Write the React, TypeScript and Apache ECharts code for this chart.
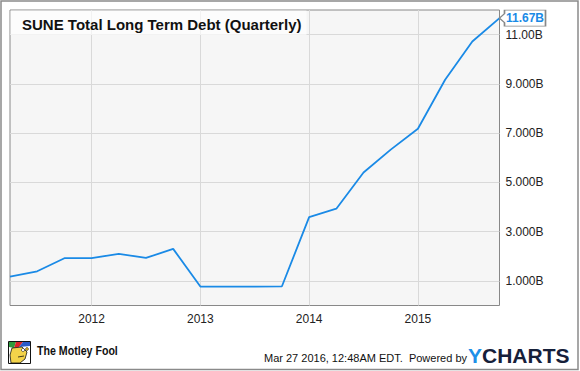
import React, { useEffect, useRef } from "react";
import * as echarts from "echarts";

// Quarter ends as decimal years (Q1 2011 ... Q3 2015)
const quarters: number[] = [
  2011.25, 2011.5, 2011.75, 2012.0, 2012.25, 2012.5, 2012.75, 2013.0, 2013.25, 2013.5,
  2013.75, 2014.0, 2014.25, 2014.5, 2014.75, 2015.0, 2015.25, 2015.5, 2015.75,
];
// Total long term debt, billions USD
const debtB: number[] = [
  1.17, 1.39, 1.92, 1.92, 2.1, 1.93, 2.3, 0.77, 0.77, 0.77,
  0.78, 3.59, 3.93, 5.4, 6.33, 7.18, 9.17, 10.72, 11.67,
];
const yTicks: number[] = [1, 3, 5, 7, 9, 11];
const xYears: number[] = [2012, 2013, 2014, 2015];

const TITLE = "SUNE Total Long Term Debt (Quarterly)";
const STAMP = "Mar 27 2016, 12:48AM EDT.  Powered by";
const BLUE = "#1a8ae6";
const FONT = "'Liberation Sans', Arial, Helvetica, sans-serif";

export default function App() {
  const ref = useRef<HTMLDivElement>(null);
  useEffect(() => {
    if (!ref.current) return;
    const chart = echarts.init(ref.current, undefined, { renderer: "svg" });
    const lastI = quarters.length - 1;
    chart.setOption({
      animation: false,
      backgroundColor: "#ffffff",
      textStyle: { fontFamily: FONT },
      title: {
        text: TITLE,
        left: 22,
        top: 17,
        padding: 0,
        textStyle: { fontSize: 15, fontWeight: "bold", color: "#111", fontFamily: FONT },
      },
      grid: {
        left: 10,
        right: 80.5,
        top: 10,
        bottom: 65.5,
        show: true,
        backgroundColor: "#f6f6f6",
        borderColor: "#888",
        borderWidth: 1,
      },
      xAxis: {
        type: "value",
        min: 2011.25,
        max: 2015.75,
        interval: 0.25,
        axisLine: { show: false },
        axisTick: { show: false },
        axisLabel: {
          margin: 7,
          fontSize: 12,
          color: "#222",
          fontFamily: FONT,
          formatter: (v: number) => (xYears.includes(v) ? String(v) : ""),
        },
        splitLine: {
          show: true,
          lineStyle: { color: ["rgba(0,0,0,0)", "rgba(0,0,0,0)", "rgba(0,0,0,0)", "#d9d9d9"], width: 1 },
        },
      },
      yAxis: {
        type: "value",
        position: "right",
        min: 0,
        max: 12,
        interval: 1,
        axisLine: { show: false },
        axisTick: { show: false },
        axisLabel: {
          margin: 6,
          fontSize: 12,
          color: "#222",
          fontFamily: FONT,
          formatter: (v: number) => (yTicks.includes(v) ? v.toPrecision(4) + "B" : ""),
        },
        splitLine: {
          show: true,
          lineStyle: { color: ["rgba(0,0,0,0)", "#d9d9d9"], width: 1 },
        },
      },
      series: [
        {
          type: "line",
          data: quarters.map((q, i) => [q, debtB[i]]),
          showSymbol: false,
          lineStyle: { color: BLUE, width: 1.8 },
          z: 3,
          markPoint: {
            silent: true,
            symbol: "path://M0,8L5,3.5L5,0L46,0L46,16L5,16L5,12.5Z",
            symbolSize: [46, 16],
            symbolOffset: [23, 0],
            itemStyle: { color: "#fff", borderColor: "#888", borderWidth: 1 },
            label: {
              show: true,
              position: "inside",
              offset: [2.5, 0],
              color: BLUE,
              fontWeight: "bold",
              fontSize: 12,
              fontFamily: FONT,
              formatter: (p: any) => p.value.toFixed(2) + "B",
            },
            data: [{ coord: [quarters[lastI], debtB[lastI]], value: debtB[lastI] }],
          },
        },
      ],
      graphic: [
        {
          type: "rect",
          z: 1,
          silent: true,
          shape: { x: 10.5, y: 10.5, width: 296, height: 24.5 },
          style: { fill: "rgba(255,255,255,0.65)" },
        },
        {
          type: "rect",
          z: 10,
          silent: true,
          shape: { x: 1, y: 1, width: 577, height: 368.5 },
          style: { fill: "none", stroke: "#8a8a8a", lineWidth: 1.5 },
        },
        // Motley Fool logo (simplified jester)
        {
          type: "group",
          z: 10,
          children: [
            { type: "rect", shape: { x: 8.5, y: 341.5, width: 22, height: 22 }, style: { fill: "#fff", stroke: "#111", lineWidth: 1 } },
            { type: "polygon", shape: { points: [[9, 342], [16, 342], [14, 348], [9, 347]] }, style: { fill: "#2e9b3c" } },
            { type: "polygon", shape: { points: [[16, 342], [23, 342], [19, 347], [14, 348]] }, style: { fill: "#d9232a" } },
            { type: "polygon", shape: { points: [[23, 342], [30, 342], [30, 346], [19, 347]] }, style: { fill: "#2a5bc8" } },
            { type: "polygon", shape: { points: [[12, 348], [22, 347], [27, 352], [25, 359], [20, 363], [11, 363], [10, 355]] }, style: { fill: "#f3d34a", stroke: "#111", lineWidth: 0.8 } },
            { type: "circle", shape: { cx: 23, cy: 350, r: 1.6 }, style: { fill: "#fff", stroke: "#111", lineWidth: 0.6 } },
            { type: "circle", shape: { cx: 27, cy: 349, r: 1.4 }, style: { fill: "#f0c020", stroke: "#111", lineWidth: 0.6 } },
            { type: "polyline", shape: { points: [[18, 357], [24, 356]] }, style: { stroke: "#111", lineWidth: 0.8 } },
          ],
        },
        {
          type: "text",
          z: 10,
          x: 37,
          y: 350,
          scaleX: 0.85,
          style: {
            text: "The Motley Fool",
            fontFamily: FONT,
            fontWeight: "bold",
            fontSize: 12.5,
            fill: "#111",
            textVerticalAlign: "middle",
          },
        },
        {
          type: "text",
          z: 10,
          x: 467,
          y: 358,
          style: {
            text: STAMP,
            fontFamily: FONT,
            fontSize: 11,
            fill: "#111",
            textAlign: "right",
            textVerticalAlign: "middle",
          },
        },
        {
          type: "text",
          z: 10,
          x: 468,
          y: 355.5,
          style: {
            text: "{y|Y}{c|CHARTS}",
            textVerticalAlign: "middle",
            rich: {
              y: { fontFamily: FONT, fontWeight: "bold", fontSize: 21, fill: "#1e90e8", color: "#1e90e8" },
              c: { fontFamily: FONT, fontWeight: "bold", fontSize: 21, fill: "#16203a", color: "#16203a" },
            },
          },
        },
      ],
    });
    return () => chart.dispose();
  }, []);
  return (
    <div
      ref={ref}
      style={{ position: "absolute", left: 0, top: 0, width: 580, height: 371, background: "#fff" }}
    />
  );
}
